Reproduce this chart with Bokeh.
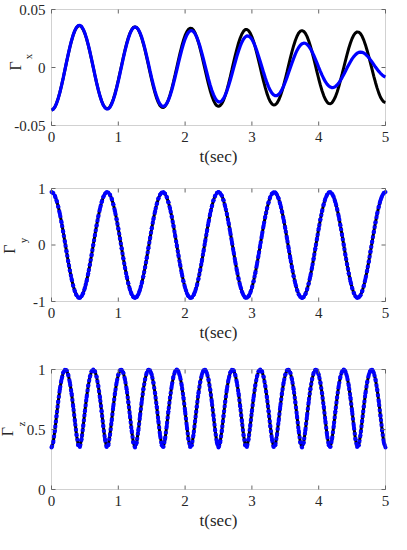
import numpy as np
from bokeh.plotting import figure
from bokeh.layouts import column
from bokeh.models import Range1d, ColumnDataSource, BoxAnnotation
from bokeh.core.properties import value
from bokeh.embed import file_html
from bokeh.resources import INLINE

# ---------------- data ----------------
t_sec = np.linspace(0, 5, 201)

gamma_x_black = [
    -0.0367, -0.0360, -0.0341, -0.0309, -0.0267, -0.0215, -0.0155, -0.0091, -0.0023, 0.0046,
    0.0112, 0.0175, 0.0231, 0.0280, 0.0318, 0.0344, 0.0359, 0.0361, 0.0350, 0.0326,
    0.0292, 0.0247, 0.0193, 0.0132, 0.0067, 0.0000, -0.0067, -0.0132, -0.0192, -0.0245,
    -0.0289, -0.0323, -0.0345, -0.0356, -0.0353, -0.0338, -0.0311, -0.0274, -0.0226, -0.0171,
    -0.0109, -0.0044, 0.0022, 0.0088, 0.0150, 0.0207, 0.0257, 0.0297, 0.0327, 0.0345,
    0.0351, 0.0344, 0.0326, 0.0295, 0.0255, 0.0205, 0.0149, 0.0087, 0.0022, -0.0044,
    -0.0107, -0.0167, -0.0221, -0.0267, -0.0303, -0.0329, -0.0343, -0.0345, -0.0334, -0.0312,
    -0.0279, -0.0235, -0.0184, -0.0126, -0.0064, 0.0000, 0.0064, 0.0126, 0.0183, 0.0234,
    0.0276, 0.0308, 0.0330, 0.0339, 0.0337, 0.0323, 0.0297, 0.0261, 0.0216, 0.0163,
    0.0104, 0.0042, -0.0021, -0.0084, -0.0143, -0.0198, -0.0245, -0.0283, -0.0312, -0.0329,
    -0.0335, -0.0328, -0.0310, -0.0282, -0.0243, -0.0196, -0.0142, -0.0083, -0.0021, 0.0042,
    0.0102, 0.0159, 0.0211, 0.0254, 0.0289, 0.0313, 0.0327, 0.0328, 0.0318, 0.0297,
    0.0265, 0.0224, 0.0175, 0.0120, 0.0061, 0.0000, -0.0061, -0.0120, -0.0174, -0.0223,
    -0.0263, -0.0294, -0.0314, -0.0323, -0.0321, -0.0307, -0.0283, -0.0248, -0.0205, -0.0155,
    -0.0099, -0.0040, 0.0020, 0.0080, 0.0136, 0.0188, 0.0233, 0.0270, 0.0297, 0.0313,
    0.0318, 0.0312, 0.0295, 0.0268, 0.0231, 0.0186, 0.0135, 0.0079, 0.0020, -0.0040,
    -0.0097, -0.0152, -0.0200, -0.0242, -0.0275, -0.0298, -0.0311, -0.0312, -0.0303, -0.0282,
    -0.0252, -0.0213, -0.0167, -0.0114, -0.0058, 0.0000, 0.0058, 0.0114, 0.0166, 0.0211,
    0.0250, 0.0279, 0.0298, 0.0307, 0.0305, 0.0292, 0.0269, 0.0236, 0.0195, 0.0147,
    0.0094, 0.0038, -0.0019, -0.0076, -0.0129, -0.0178, -0.0221, -0.0256, -0.0281, -0.0297,
    -0.0302,
]

gamma_x_blue = [
    -0.0367, -0.0360, -0.0341, -0.0310, -0.0268, -0.0216, -0.0156, -0.0091, -0.0023, 0.0046,
    0.0113, 0.0176, 0.0233, 0.0281, 0.0320, 0.0347, 0.0362, 0.0364, 0.0354, 0.0330,
    0.0296, 0.0251, 0.0197, 0.0136, 0.0071, 0.0003, -0.0065, -0.0130, -0.0191, -0.0244,
    -0.0289, -0.0324, -0.0347, -0.0358, -0.0357, -0.0343, -0.0317, -0.0279, -0.0233, -0.0178,
    -0.0117, -0.0052, 0.0014, 0.0080, 0.0143, 0.0200, 0.0250, 0.0292, 0.0323, 0.0342,
    0.0350, 0.0345, 0.0328, 0.0300, 0.0262, 0.0214, 0.0159, 0.0099, 0.0036, -0.0028,
    -0.0091, -0.0150, -0.0204, -0.0251, -0.0288, -0.0316, -0.0332, -0.0336, -0.0329, -0.0311,
    -0.0282, -0.0243, -0.0196, -0.0142, -0.0084, -0.0024, 0.0038, 0.0097, 0.0153, 0.0203,
    0.0245, 0.0279, 0.0303, 0.0316, 0.0319, 0.0310, 0.0290, 0.0261, 0.0223, 0.0178,
    0.0126, 0.0071, 0.0014, -0.0043, -0.0099, -0.0150, -0.0196, -0.0234, -0.0265, -0.0286,
    -0.0296, -0.0297, -0.0287, -0.0268, -0.0239, -0.0203, -0.0160, -0.0112, -0.0060, -0.0007,
    0.0045, 0.0096, 0.0143, 0.0184, 0.0218, 0.0245, 0.0263, 0.0272, 0.0271, 0.0261,
    0.0243, 0.0216, 0.0182, 0.0142, 0.0098, 0.0052, 0.0004, -0.0044, -0.0089, -0.0131,
    -0.0167, -0.0198, -0.0221, -0.0236, -0.0243, -0.0242, -0.0232, -0.0215, -0.0191, -0.0160,
    -0.0125, -0.0086, -0.0044, -0.0002, 0.0039, 0.0079, 0.0115, 0.0147, 0.0173, 0.0192,
    0.0205, 0.0210, 0.0209, 0.0200, 0.0185, 0.0163, 0.0137, 0.0107, 0.0073, 0.0038,
    0.0002, -0.0033, -0.0066, -0.0096, -0.0122, -0.0143, -0.0159, -0.0169, -0.0174, -0.0172,
    -0.0164, -0.0151, -0.0134, -0.0112, -0.0087, -0.0060, -0.0032, -0.0003, 0.0024, 0.0050,
    0.0074, 0.0094, 0.0110, 0.0123, 0.0130, 0.0133, 0.0131, 0.0125, 0.0115, 0.0101,
    0.0085, 0.0066, 0.0046, 0.0025, 0.0004, -0.0015, -0.0034, -0.0050, -0.0064, -0.0075,
    -0.0082,
]

gamma_y = [
    0.937, 0.920, 0.871, 0.791, 0.683, 0.551, 0.399, 0.233, 0.059, -0.117,
    -0.290, -0.451, -0.597, -0.722, -0.821, -0.891, -0.930, -0.935, -0.908, -0.848,
    -0.758, -0.641, -0.502, -0.345, -0.176, 0.000, 0.176, 0.345, 0.502, 0.641,
    0.758, 0.848, 0.908, 0.935, 0.930, 0.891, 0.821, 0.722, 0.597, 0.451,
    0.290, 0.117, -0.059, -0.233, -0.399, -0.551, -0.683, -0.791, -0.871, -0.920,
    -0.937, -0.920, -0.871, -0.791, -0.683, -0.551, -0.399, -0.233, -0.059, 0.117,
    0.290, 0.451, 0.597, 0.722, 0.821, 0.891, 0.930, 0.935, 0.908, 0.848,
    0.758, 0.641, 0.502, 0.345, 0.176, 0.000, -0.176, -0.345, -0.502, -0.641,
    -0.758, -0.848, -0.908, -0.935, -0.930, -0.891, -0.821, -0.722, -0.597, -0.451,
    -0.290, -0.117, 0.059, 0.233, 0.399, 0.551, 0.683, 0.791, 0.871, 0.920,
    0.937, 0.920, 0.871, 0.791, 0.683, 0.551, 0.399, 0.233, 0.059, -0.117,
    -0.290, -0.451, -0.597, -0.722, -0.821, -0.891, -0.930, -0.935, -0.908, -0.848,
    -0.758, -0.641, -0.502, -0.345, -0.176, 0.000, 0.176, 0.345, 0.502, 0.641,
    0.758, 0.848, 0.908, 0.935, 0.930, 0.891, 0.821, 0.722, 0.597, 0.451,
    0.290, 0.117, -0.059, -0.233, -0.399, -0.551, -0.683, -0.791, -0.871, -0.920,
    -0.937, -0.920, -0.871, -0.791, -0.683, -0.551, -0.399, -0.233, -0.059, 0.117,
    0.290, 0.451, 0.597, 0.722, 0.821, 0.891, 0.930, 0.935, 0.908, 0.848,
    0.758, 0.641, 0.502, 0.345, 0.176, 0.000, -0.176, -0.345, -0.502, -0.641,
    -0.758, -0.848, -0.908, -0.935, -0.930, -0.891, -0.821, -0.722, -0.597, -0.451,
    -0.290, -0.117, 0.059, 0.233, 0.399, 0.551, 0.683, 0.791, 0.871, 0.920,
    0.937,
]

gamma_z = [
    0.349, 0.391, 0.491, 0.612, 0.730, 0.835, 0.917, 0.973, 0.998, 0.993,
    0.957, 0.892, 0.802, 0.692, 0.571, 0.454, 0.369, 0.354, 0.420, 0.530,
    0.652, 0.767, 0.865, 0.939, 0.985, 1.000, 0.985, 0.939, 0.865, 0.767,
    0.652, 0.530, 0.420, 0.354, 0.369, 0.454, 0.571, 0.692, 0.802, 0.892,
    0.957, 0.993, 0.998, 0.973, 0.917, 0.835, 0.730, 0.612, 0.491, 0.391,
    0.349, 0.391, 0.491, 0.612, 0.730, 0.835, 0.917, 0.973, 0.998, 0.993,
    0.957, 0.892, 0.802, 0.692, 0.571, 0.454, 0.369, 0.354, 0.420, 0.530,
    0.652, 0.767, 0.865, 0.939, 0.985, 1.000, 0.985, 0.939, 0.865, 0.767,
    0.652, 0.530, 0.420, 0.354, 0.369, 0.454, 0.571, 0.692, 0.802, 0.892,
    0.957, 0.993, 0.998, 0.973, 0.917, 0.835, 0.730, 0.612, 0.491, 0.391,
    0.349, 0.391, 0.491, 0.612, 0.730, 0.835, 0.917, 0.973, 0.998, 0.993,
    0.957, 0.892, 0.802, 0.692, 0.571, 0.454, 0.369, 0.354, 0.420, 0.530,
    0.652, 0.767, 0.865, 0.939, 0.985, 1.000, 0.985, 0.939, 0.865, 0.767,
    0.652, 0.530, 0.420, 0.354, 0.369, 0.454, 0.571, 0.692, 0.802, 0.892,
    0.957, 0.993, 0.998, 0.973, 0.917, 0.835, 0.730, 0.612, 0.491, 0.391,
    0.349, 0.391, 0.491, 0.612, 0.730, 0.835, 0.917, 0.973, 0.998, 0.993,
    0.957, 0.892, 0.802, 0.692, 0.571, 0.454, 0.369, 0.354, 0.420, 0.530,
    0.652, 0.767, 0.865, 0.939, 0.985, 1.000, 0.985, 0.939, 0.865, 0.767,
    0.652, 0.530, 0.420, 0.354, 0.369, 0.454, 0.571, 0.692, 0.802, 0.892,
    0.957, 0.993, 0.998, 0.973, 0.917, 0.835, 0.730, 0.612, 0.491, 0.391,
    0.349,
]

x_ticks = [0, 1, 2, 3, 4, 5]
x_tick_labels = ["0", "1", "2", "3", "4", "5"]
x_label = "t(sec)"

gx_ticks = [-0.05, 0, 0.05]
gx_tick_labels = ["-0.05", "0", "0.05"]
gy_ticks = [-1, 0, 1]
gy_tick_labels = ["-1", "0", "1"]
gz_ticks = [0, 0.5, 1]
gz_tick_labels = ["0", "0.5", "1"]

# ---------------- styling / layout ----------------
FONT = value("Liberation Serif")
TEXT_COLOR = "#262626"
FRAME_COLOR = "#666666"
BLUE = "#0000ff"
FIG_W = 391
LEFT = 51          # px between the canvas edge and the plot box, left
RIGHT = 6          # and right
T_LO, T_HI = 0, 5
PX_PER_T = (FIG_W - LEFT - RIGHT) / (T_HI - T_LO)


def make_panel(height, top, bottom, y_lo, y_hi, yticks, ylabels, sub,
               g_off, s_off, g_y, s_y, y_black, y_blue, dotted):
    frame_h = height - top - bottom
    per_px = (y_hi - y_lo) / frame_h
    p = figure(width=FIG_W, height=height,
               x_range=Range1d(T_LO - LEFT / PX_PER_T, T_HI + RIGHT / PX_PER_T),
               y_range=Range1d(y_lo - bottom * per_px, y_hi + top * per_px),
               x_axis_type=None, y_axis_type=None, output_backend="svg",
               toolbar_location=None, min_border=0)
    p.outline_line_color = None
    p.grid.visible = False

    # data
    src = ColumnDataSource(dict(t=t_sec, black=y_black, blue=y_blue))
    p.line("t", "black", source=src, line_color="black", line_width=3)
    if dotted:
        p.line("t", "blue", source=src, line_color=BLUE, line_width=4, line_dash="3 2")
        p.scatter("t", "blue", source=src, marker="circle", size=4,
                  fill_color=BLUE, line_color=None)
    else:
        p.line("t", "blue", source=src, line_color=BLUE, line_width=3.2)

    # plot box
    p.add_layout(BoxAnnotation(left=T_LO, right=T_HI, bottom=y_lo, top=y_hi,
                               fill_color=None, line_color=FRAME_COLOR, line_width=1))

    # inward ticks on all four sides
    nx, ny = len(x_ticks), len(yticks)
    tick_kw = dict(length=4, length_units="screen", line_color=FRAME_COLOR, line_width=1)
    p.ray(x=x_ticks, y=[y_lo] * nx, angle=np.pi / 2, **tick_kw)
    p.ray(x=x_ticks, y=[y_hi] * nx, angle=-np.pi / 2, **tick_kw)
    p.ray(x=[T_LO] * ny, y=yticks, angle=0, **tick_kw)
    p.ray(x=[T_HI] * ny, y=yticks, angle=np.pi, **tick_kw)

    # tick labels
    p.text(x=x_ticks, y=[y_lo] * nx, text=x_tick_labels, y_offset=11,
           text_align="center", text_baseline="middle", text_font=FONT,
           text_font_size=value("15px"), text_color=TEXT_COLOR)
    p.text(x=[T_LO] * ny, y=yticks, text=ylabels, x_offset=-6,
           text_align="right", text_baseline="middle", text_font=FONT,
           text_font_size=value("15px"), text_color=TEXT_COLOR)

    # axis titles
    p.text(x=[(T_LO + T_HI) / 2], y=[y_lo], text=[x_label], y_offset=31,
           text_align="center", text_baseline="middle", text_font=FONT,
           text_font_size=value("17px"), text_color=TEXT_COLOR)
    p.text(x=[T_LO], y=[g_y], text=["\u0393"], x_offset=g_off, angle=np.pi / 2,
           text_align="center", text_baseline="middle", text_font=FONT,
           text_font_size=value("16px"), text_color=TEXT_COLOR)
    p.text(x=[T_LO], y=[s_y], text=[sub], x_offset=s_off, angle=np.pi / 2,
           text_align="center", text_baseline="middle", text_font=FONT,
           text_font_size=value("11px"), text_color=TEXT_COLOR)
    return p


p1 = make_panel(172, 9, 47, -0.05, 0.05, gx_ticks, gx_tick_labels, "x",
                -36.5, -24, 0.0013, 0.0095, gamma_x_black, gamma_x_blue, False)
p2 = make_panel(180, 16, 51, -1, 1, gy_ticks, gy_tick_labels, "y",
                -41.7, -28.7, -0.074, 0.080, gamma_y, gamma_y, True)
p3 = make_panel(182, 17, 45, 0, 1, gz_ticks, gz_tick_labels, "z",
                -44, -31, 0.483, 0.546, gamma_z, gamma_z, True)

layout = column(p1, p2, p3, spacing=0)
open("out.html", "w").write(file_html(layout, INLINE))
